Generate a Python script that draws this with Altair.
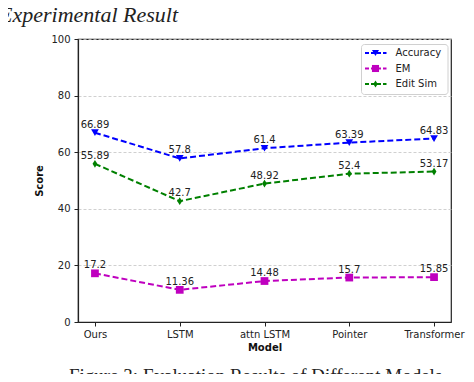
import altair as alt
import pandas as pd

models = ["Ours", "LSTM", "attn LSTM", "Pointer", "Transformer"]
series = ["Accuracy", "EM", "Edit Sim"]
accuracy = [66.89, 57.8, 61.4, 63.39, 64.83]
em = [17.2, 11.36, 14.48, 15.7, 15.85]
edit_sim = [55.89, 42.7, 48.92, 52.4, 53.17]
y_ticks = [0, 20, 40, 60, 80, 100]

colors = ["#0000ff", "#bf00bf", "#008000"]
shapes = ["triangle-down", "square", "M0,-1L0.62,0L0,1L-0.62,0Z"]

rows = []
for s, vals in zip(series, [accuracy, em, edit_sim]):
    for m, v in zip(models, vals):
        rows.append({"model": m, "series": s, "score": v, "label": str(v)})
df = pd.DataFrame(rows)

W, H = 373, 283
FONT = "DejaVu Sans"

x = alt.X("model:N", sort=models,
          scale=alt.Scale(type="point", padding=0.2),
          axis=alt.Axis(title="Model", labelAngle=0, grid=False, tickSize=4,
                        labelPadding=3, titlePadding=3, titleFontWeight="bold"))
y = alt.Y("score:Q", scale=alt.Scale(domain=[0, 100], nice=False),
          axis=alt.Axis(title="Score", values=y_ticks, grid=True, tickSize=4,
                        labelPadding=4, titlePadding=6, titleFontWeight="bold",
                        gridDash=[3, 2], gridColor="#c4c4c4", gridWidth=0.8))
color = alt.Color("series:N", scale=alt.Scale(domain=series, range=colors), legend=None)
shape = alt.Shape("series:N", scale=alt.Scale(domain=series, range=shapes), legend=None)

base = alt.Chart(df)
lines = base.mark_line(strokeDash=[6, 3], strokeWidth=2).encode(x=x, y=y, color=color)
points = base.mark_point(filled=True, size=60, opacity=1).encode(x=x, y=y, color=color, shape=shape)
texts = base.mark_text(dy=-5, baseline="alphabetic", fontSize=10, color="#222222",
                       font=FONT).encode(x=x, y=y, text="label:N")

one = pd.DataFrame({"k": [0]})
layers = [lines, points, texts]

# legend box (anchored to the plot's right edge)
LX = W - 86
layers.append(alt.Chart(one).mark_rect(fill="white", stroke="#cccccc", strokeWidth=1,
                                       cornerRadius=3, opacity=0.9).encode(
    x=alt.value(LX - 3.5), x2=alt.value(LX + 83), y=alt.value(5.5), y2=alt.value(55.5)))
for i, (s, c, sh) in enumerate(zip(series, colors, shapes)):
    yi = 14 + i * 15.5
    layers.append(alt.Chart(one).mark_rule(strokeDash=[4, 2], strokeWidth=2, color=c).encode(
        x=alt.value(LX), x2=alt.value(LX + 21.5), y=alt.value(yi)))
    layers.append(alt.Chart(one).mark_point(filled=True, shape=sh, size=50, color=c, opacity=1).encode(
        x=alt.value(LX + 10.5), y=alt.value(yi)))
    layers.append(alt.Chart(one).mark_text(align="left", baseline="middle", fontSize=10,
                                           color="#222222", font=FONT).encode(
        x=alt.value(LX + 30.5), y=alt.value(yi), text=alt.value(s)))

# figure heading and caption (cropped in the reference)
layers.append(alt.Chart(one).mark_text(align="left", baseline="alphabetic", fontSize=22,
                                       font="Liberation Serif", fontStyle="italic",
                                       color="#222222").encode(
    x=alt.value(-79), y=alt.value(-17), text=alt.value("Experimental Result")))
layers.append(alt.Chart(one).mark_text(align="left", baseline="alphabetic", fontSize=19,
                                       font="Liberation Serif", color="#222222").encode(
    x=alt.value(-9), y=alt.value(343),
    text=alt.value("Figure 3:  Evaluation Results of Different Models")))

chart = alt.layer(*layers).properties(
    width=W, height=H,
    autosize=alt.AutoSizeParams(type="none"),
    padding={"left": 70, "top": 31, "right": 15, "bottom": 52},
).configure_view(stroke="#222222", strokeWidth=1.2).configure_axis(
    labelFont=FONT, titleFont=FONT, labelFontSize=10, titleFontSize=10,
    labelColor="#222222", titleColor="#111111", domainColor="#222222",
    domainWidth=1.2, tickColor="#222222",
)

chart.save("out.html", embed_options={"renderer": "svg", "actions": False})
